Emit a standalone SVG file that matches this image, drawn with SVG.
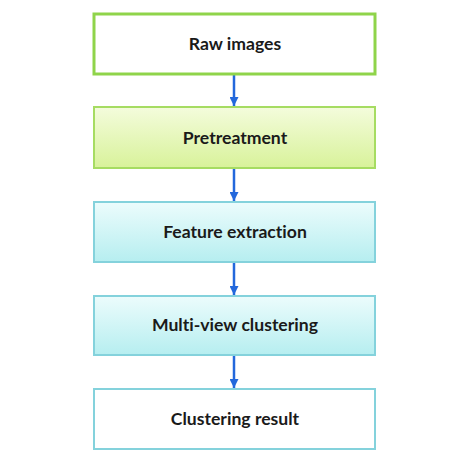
<svg xmlns="http://www.w3.org/2000/svg" width="474" height="474" viewBox="0 0 474 474">
<defs>
<linearGradient id="gGreen" x1="0" y1="0" x2="0" y2="1">
<stop offset="0" stop-color="#f4fcdc"/>
<stop offset="1" stop-color="#d8f29a"/>
</linearGradient>
<linearGradient id="gCyan" x1="0" y1="0" x2="0" y2="1">
<stop offset="0" stop-color="#ecfcfc"/>
<stop offset="1" stop-color="#b6eef0"/>
</linearGradient>
<marker id="arr" markerWidth="10" markerHeight="9" refX="9" refY="4.5" orient="auto" markerUnits="userSpaceOnUse">
<path d="M0,0 L9,4.5 L0,9 z" fill="#2368dc"/>
</marker>
</defs>
<style>
.lbl{font-family:Lato,"Open Sans","Liberation Sans",sans-serif;font-weight:bold;font-size:17.6px;fill:#1a1a1a;text-anchor:middle;font-variant-ligatures:none}
.g{stroke:#8fd44a;stroke-width:3}
.c{stroke:#84d2dc;stroke-width:2}
.conn{stroke:#2368dc;stroke-width:2.5;fill:none}
</style>
<rect width="474" height="474" fill="#ffffff"/>
<g id="connectors">
<line class="conn" x1="234" y1="75" x2="234" y2="106" marker-end="url(#arr)"/>
<line class="conn" x1="234" y1="169" x2="234" y2="201" marker-end="url(#arr)"/>
<line class="conn" x1="234" y1="263" x2="234" y2="295" marker-end="url(#arr)"/>
<line class="conn" x1="234" y1="356" x2="234" y2="388" marker-end="url(#arr)"/>
</g>
<g id="raw">
<rect class="g" x="94" y="14" width="281" height="60" fill="#ffffff"/>
<text class="lbl" x="235" y="50">Raw images</text>
</g>
<g id="pre">
<rect x="94" y="107" width="281" height="61" fill="url(#gGreen)" stroke="#a6dc62" stroke-width="2"/>
<text class="lbl" x="235" y="144">Pretreatment</text>
</g>
<g id="feat">
<rect class="c" x="94" y="202" width="281" height="60" fill="url(#gCyan)"/>
<text class="lbl" x="235" y="238">Feature extraction</text>
</g>
<g id="mvc">
<rect class="c" x="94" y="296" width="281" height="59" fill="url(#gCyan)"/>
<text class="lbl" x="235" y="331">Multi-view clustering</text>
</g>
<g id="res">
<rect class="c" x="94" y="389" width="281" height="60" fill="#ffffff"/>
<text class="lbl" x="235" y="425">Clustering result</text>
</g>
</svg>
